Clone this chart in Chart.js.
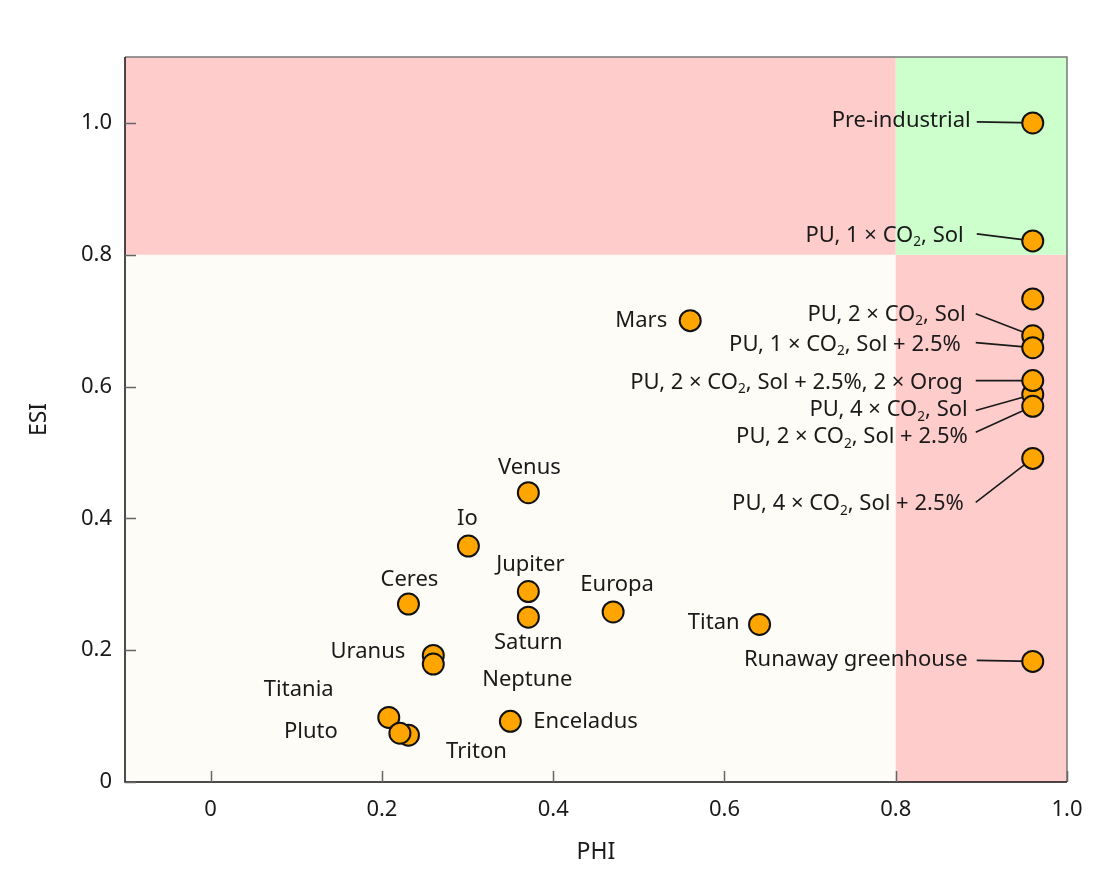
<!DOCTYPE html>
<html><head><meta charset="utf-8">
<script src="https://cdn.jsdelivr.net/npm/chart.js@4.4.1/dist/chart.umd.min.js"></script>
<style>html,body{margin:0;padding:0;background:#fff}canvas{display:block}</style>
</head><body>
<canvas id="c" width="1094" height="879"></canvas>
<script>
// ---------- data ----------
const pointNames = [
  'Pre-industrial', 'PU, 1 × CO₂, Sol', null, 'PU, 2 × CO₂, Sol', 'PU, 1 × CO₂, Sol + 2.5%',
  'PU, 4 × CO₂, Sol', 'PU, 2 × CO₂, Sol + 2.5%, 2 × Orog', 'PU, 2 × CO₂, Sol + 2.5%',
  'PU, 4 × CO₂, Sol + 2.5%', 'Runaway greenhouse',
  'Mars', 'Venus', 'Io', 'Jupiter', 'Saturn', 'Europa', 'Titan', 'Ceres', 'Uranus', 'Neptune',
  'Enceladus', 'Titania', 'Triton', 'Pluto'
];
const phiValues = [
  0.96, 0.96, 0.96, 0.96, 0.96, 0.96, 0.96, 0.96, 0.96, 0.96,
  0.56, 0.371, 0.301, 0.371, 0.371, 0.47, 0.641, 0.231, 0.26, 0.26,
  0.35, 0.208, 0.231, 0.221
];
const esiValues = [
  1.0, 0.821, 0.733, 0.677, 0.659, 0.588, 0.609, 0.570, 0.491, 0.183,
  0.70, 0.439, 0.358, 0.289, 0.25, 0.258, 0.239, 0.27, 0.192, 0.179,
  0.092, 0.098, 0.071, 0.074
];
const xTickValues = [0, 0.2, 0.4, 0.6, 0.8, 1.0];
const xTickLabels = ['0', '0.2', '0.4', '0.6', '0.8', '1.0'];
const yTickValues = [0, 0.2, 0.4, 0.6, 0.8, 1.0];
const yTickLabels = ['0', '0.2', '0.4', '0.6', '0.8', '1.0'];
const xRange = [-0.1, 1.0];
const yRange = [0, 1.1];
const phiThreshold = 0.8;
const esiThreshold = 0.8;
const xAxisTitle = 'PHI';
const yAxisTitle = 'ESI';

// ---------- label placement (pixel offsets from the point) ----------
const labelLayout = {
  'Pre-industrial': {align:'right', dx:-62, dy:-4, line:[-56,-1]},
  'PU, 1 × CO₂, Sol': {align:'right', dx:-69, dy:-7, line:[-56,-7]},
  'PU, 2 × CO₂, Sol': {align:'right', dx:-67, dy:-23, line:[-57,-22]},
  'PU, 1 × CO₂, Sol + 2.5%': {align:'right', dx:-72, dy:-5, line:[-57,-5]},
  'PU, 2 × CO₂, Sol + 2.5%, 2 × Orog': {align:'right', dx:-70, dy:0, line:[-57,0]},
  'PU, 4 × CO₂, Sol': {align:'right', dx:-65, dy:14, line:[-57,16]},
  'PU, 2 × CO₂, Sol + 2.5%': {align:'right', dx:-65, dy:29, line:[-57,26]},
  'PU, 4 × CO₂, Sol + 2.5%': {align:'right', dx:-69, dy:44, line:[-57,44]},
  'Runaway greenhouse': {align:'right', dx:-65, dy:-3, line:[-56,-1]},
  'Mars': {align:'right', dx:-23, dy:-2},
  'Venus': {align:'center', dx:1, dy:-27},
  'Io': {align:'center', dx:-1, dy:-29},
  'Jupiter': {align:'center', dx:2, dy:-28},
  'Saturn': {align:'center', dx:0, dy:24},
  'Europa': {align:'center', dx:4, dy:-29},
  'Titan': {align:'right', dx:-20, dy:-3},
  'Ceres': {align:'center', dx:1, dy:-26},
  'Uranus': {align:'right', dx:-28, dy:-5},
  'Neptune': {align:'center', dx:94, dy:14},
  'Enceladus': {align:'left', dx:23, dy:-1},
  'Titania': {align:'center', dx:-90, dy:-29},
  'Triton': {align:'center', dx:68, dy:15},
  'Pluto': {align:'center', dx:-89, dy:-3}
};

const FONT = "'Noto Sans', sans-serif";
const LABEL_SIZE = 22;
const TICK_SIZE = 22;
const TITLE_SIZE = 23;
const TEXT_COLOR = '#1a1a1a';
const COLORS = {plot:'#fdfcf7', pink:'#ffcccc', green:'#ccffcc', point:'#ffa500', pointBorder:'#111'};

function drawRich(ctx, text, x, yCenter, align, size) {
  const parts = text.split('₂');
  const subSize = size * 0.62;
  const segs = [];
  parts.forEach((p, i) => {
    if (p) segs.push({t:p, sub:false});
    if (i < parts.length - 1) segs.push({t:'2', sub:true});
  });
  let total = 0;
  segs.forEach(s => {
    ctx.font = (s.sub ? subSize : size) + 'px ' + FONT;
    s.w = ctx.measureText(s.t).width;
    total += s.w;
  });
  let sx = x;
  if (align === 'right') sx = x - total;
  else if (align === 'center') sx = x - total / 2;
  const base = yCenter + size * 0.36;
  ctx.textAlign = 'left';
  ctx.textBaseline = 'alphabetic';
  segs.forEach(s => {
    ctx.font = (s.sub ? subSize : size) + 'px ' + FONT;
    ctx.fillText(s.t, sx, s.sub ? base + size * 0.2 : base);
    sx += s.w;
  });
}

const decorPlugin = {
  id: 'decor',
  beforeDatasetsDraw(chart) {
    const {ctx, chartArea: a, scales: {x, y}} = chart;
    ctx.save();
    const xT = x.getPixelForValue(phiThreshold);
    const yT = y.getPixelForValue(esiThreshold);
    ctx.fillStyle = COLORS.plot;
    ctx.fillRect(a.left, a.top, a.right - a.left, a.bottom - a.top);
    ctx.fillStyle = COLORS.pink;
    ctx.fillRect(a.left, a.top, xT - a.left, yT - a.top);
    ctx.fillRect(xT, yT, a.right - xT, a.bottom - yT);
    ctx.fillStyle = COLORS.green;
    ctx.fillRect(xT, a.top, a.right - xT, yT - a.top);
    // leader lines
    ctx.strokeStyle = '#1a1a1a';
    ctx.lineWidth = 1.6;
    pointNames.forEach((n, i) => {
      const L = n && labelLayout[n];
      if (!L || !L.line) return;
      const px = x.getPixelForValue(phiValues[i]);
      const py = y.getPixelForValue(esiValues[i]);
      ctx.beginPath();
      ctx.moveTo(px + L.line[0], py + L.line[1]);
      ctx.lineTo(px, py);
      ctx.stroke();
    });
    ctx.restore();
  },
  afterDatasetsDraw(chart) {
    const {ctx, chartArea: a, scales: {x, y}} = chart;
    ctx.save();
    // labels
    ctx.fillStyle = TEXT_COLOR;
    pointNames.forEach((n, i) => {
      const L = n && labelLayout[n];
      if (!L) return;
      const px = x.getPixelForValue(phiValues[i]);
      const py = y.getPixelForValue(esiValues[i]);
      drawRich(ctx, n, px + L.dx, py + L.dy, L.align, LABEL_SIZE);
    });
    // frame
    ctx.lineWidth = 1.5;
    ctx.strokeStyle = '#777';
    ctx.beginPath();
    ctx.moveTo(a.left, a.top); ctx.lineTo(a.right, a.top); ctx.lineTo(a.right, a.bottom);
    ctx.stroke();
    ctx.strokeStyle = '#111';
    ctx.beginPath();
    ctx.moveTo(a.left, a.top); ctx.lineTo(a.left, a.bottom); ctx.lineTo(a.right, a.bottom);
    ctx.stroke();
    // inward ticks
    ctx.strokeStyle = '#666';
    ctx.lineWidth = 1.5;
    ctx.beginPath();
    yTickValues.forEach(v => {
      const py = Math.round(y.getPixelForValue(v)) + 0.5;
      ctx.moveTo(a.left, py); ctx.lineTo(a.left + 11, py);
    });
    xTickValues.forEach(v => {
      const px = Math.round(x.getPixelForValue(v)) + 0.5;
      ctx.moveTo(px, a.bottom); ctx.lineTo(px, a.bottom - 11);
    });
    ctx.stroke();
    ctx.restore();
  }
};

new Chart(document.getElementById('c'), {
  type: 'scatter',
  data: {
    datasets: [{
      data: phiValues.map((p, i) => ({x: p, y: esiValues[i]})),
      backgroundColor: COLORS.point,
      borderColor: COLORS.pointBorder,
      borderWidth: 2,
      pointRadius: 10.5,
      pointHoverRadius: 10.5
    }]
  },
  options: {
    responsive: false,
    animation: false,
    devicePixelRatio: 1,
    events: [],
    layout: {padding: {left: 0, right: 27, top: 57, bottom: 0}},
    plugins: {legend: {display: false}, tooltip: {enabled: false}},
    scales: {
      x: {
        type: 'linear', min: xRange[0], max: xRange[1],
        afterBuildTicks: s => { s.ticks = xTickValues.map(v => ({value: v})); },
        afterFit: s => { s.height = 97; s.paddingLeft = 0; s.paddingRight = 0; },
        grid: {display: false, drawTicks: false},
        border: {display: false},
        ticks: {autoSkip: false, maxRotation: 0, padding: 15, color: TEXT_COLOR,
          font: {family: FONT, size: TICK_SIZE}, callback: (v, i) => xTickLabels[i]},
        title: {display: true, text: xAxisTitle, color: TEXT_COLOR,
          font: {family: FONT, size: TITLE_SIZE}, padding: {top: 0, bottom: 13}}
      },
      y: {
        type: 'linear', min: yRange[0], max: yRange[1],
        afterBuildTicks: s => { s.ticks = yTickValues.map(v => ({value: v})); },
        afterFit: s => { s.width = 125; s.paddingTop = 0; s.paddingBottom = 0; },
        grid: {display: false, drawTicks: false},
        border: {display: false},
        ticks: {autoSkip: false, padding: 13, color: TEXT_COLOR,
          font: {family: FONT, size: TICK_SIZE}, callback: (v, i) => yTickLabels[i]},
        title: {display: true, text: yAxisTitle, color: TEXT_COLOR,
          font: {family: FONT, size: TITLE_SIZE}, padding: {top: 26, bottom: 0}}
      }
    }
  },
  plugins: [decorPlugin]
});
</script>
</body></html>
